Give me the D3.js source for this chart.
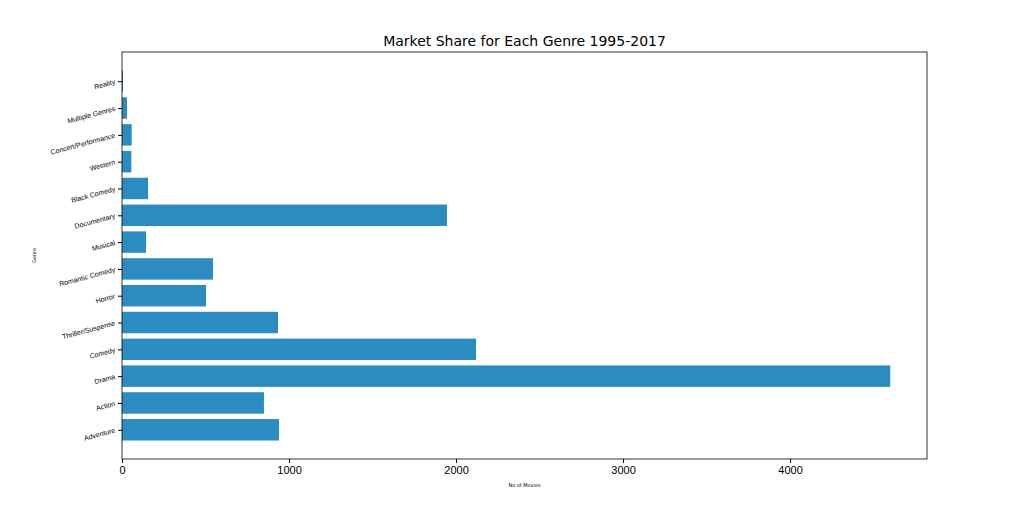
<!DOCTYPE html>
<html><head><meta charset="utf-8">
<script src="https://cdn.jsdelivr.net/npm/d3@7"></script>
<style>body{margin:0;background:#fff}svg{font-family:"DejaVu Sans",sans-serif}svg text{fill:#000}</style>
</head><body>
<div class="bg"></div>
<script>
const genres = ["Adventure","Action","Drama","Comedy","Thriller/Suspense","Horror","Romantic Comedy","Musical","Documentary","Black Comedy","Western","Concert/Performance","Multiple Genres","Reality"];
const movies = [940, 850, 4600, 2120, 934, 503, 545, 144, 1946, 156, 56, 58, 30, 6];
const xTicks = [0, 1000, 2000, 3000, 4000];

const margin = { top: 52, right: 97, bottom: 52, left: 122 };
const width = 1024 - margin.left - margin.right;
const height = 511 - margin.top - margin.bottom;

const svg = d3.select(".bg").append("svg")
  .attr("width", 1024).attr("height", 511)
  .append("g")
  .attr("transform", "translate(" + margin.left + "," + margin.top + ")");

const xScale = d3.scaleLinear().domain([0, 4820]).range([0, width]);
// matplotlib style: bar height 0.8, 5% margin
const yScale = d3.scaleLinear().domain([-1.09, 14.09]).range([height, 0]);
const barH = yScale(0) - yScale(0.8);

svg.selectAll(".bar").data(genres).enter().append("rect")
  .attr("x", 0)
  .attr("y", (d, i) => yScale(i + 0.4))
  .attr("width", (d, i) => xScale(movies[i]))
  .attr("height", barH)
  .attr("fill", "#2b8cc1");

const xAxis = d3.axisBottom(xScale).tickValues(xTicks).tickFormat(d3.format("d")).tickSize(4).tickPadding(3);
svg.append("g").attr("transform", "translate(0," + height + ")").call(xAxis)
  .call(g => g.select(".domain").remove())
  .selectAll("text").attr("font-size", 11);

const yAxis = d3.axisLeft(yScale).tickValues(d3.range(genres.length)).tickFormat(i => genres[i]).tickSize(4);
svg.append("g").call(yAxis)
  .call(g => g.select(".domain").remove())
  .selectAll("text").attr("font-size", 7)
  .attr("transform", "rotate(-15,-7,0)");

svg.append("rect").attr("width", width).attr("height", height)
  .attr("fill", "none").attr("stroke", "#000").attr("stroke-width", 0.8);

svg.append("text").attr("x", width / 2).attr("y", -6).attr("text-anchor", "middle")
  .attr("font-size", 14).text("Market Share for Each Genre 1995-2017");
svg.append("text").attr("x", width / 2).attr("y", height + 28).attr("text-anchor", "middle")
  .attr("font-size", 5).text("No of Movies");
svg.append("text").attr("transform", "translate(-86," + height / 2 + ") rotate(-90)")
  .attr("text-anchor", "middle").attr("font-size", 5).text("Genre");
</script>
</body></html>
